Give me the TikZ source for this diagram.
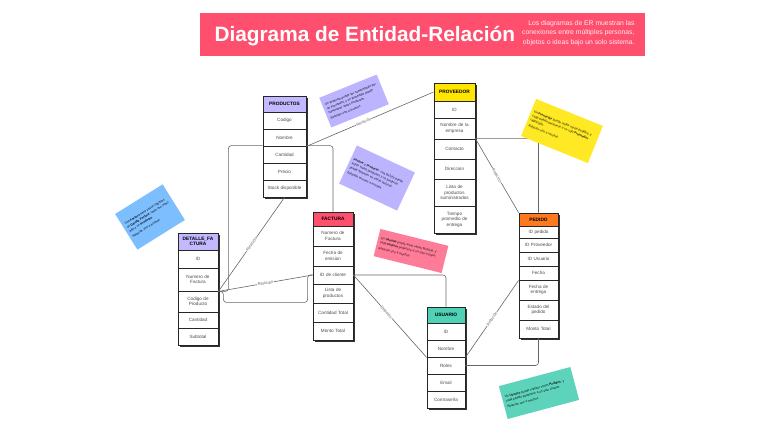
\documentclass[tikz,border=0pt]{standalone}
\usepackage{fontspec}
\setmainfont{Liberation Sans}
\definecolor{rosa}{HTML}{FF4F6E}
\definecolor{lila}{HTML}{C2B9FF}
\definecolor{amarillo}{HTML}{FFE500}
\definecolor{naranja}{HTML}{FF7A1F}
\definecolor{turquesa}{HTML}{4FD1B5}
\definecolor{azulnota}{HTML}{7DBEFF}
\definecolor{rosanota}{HTML}{FF7C99}
\definecolor{lilanota}{HTML}{BDB4FF}
\definecolor{amarillonota}{HTML}{FFE924}
\definecolor{turquesanota}{HTML}{5DD3BC}

\begin{document}
\begin{tikzpicture}[x=1pt,y=-1pt,
    celda/.style={draw=black!85,line width=.8pt,fill=white,align=center,inner sep=1pt,
        text=black!70,font=\fontsize{4.6}{5.4}\selectfont},
    cabecera/.style={celda,text=black,font=\fontsize{4.8}{5.6}\selectfont\bfseries},
    sombra/.style={fill=black!80},
    conn/.style={draw=black!60,line width=.6pt,rounded corners=3pt},
    rel/.style={font=\fontsize{4}{4.4}\selectfont,text=black!60,fill=white,inner sep=.6pt,sloped},
    nota/.style={align=left,inner sep=3pt,font=\fontsize{3}{4.4}\selectfont}]
\useasboundingbox (0,0) rectangle (768,431);
\fill[white] (0,0) rectangle (768,431);

% titulo
\fill[rosa] (200,13) rectangle (645,56);
\node[anchor=base west,text=white,font=\fontsize{20.8}{24}\selectfont\bfseries] (titulo) at (211,41.7) {Diagrama de Entidad-Relación};
\node[anchor=east,align=right,text=white!88!rosa,font=\fontsize{6.8}{9.6}\selectfont] (subtitulo) at (638,33)
    {Los diagramas de ER muestran las\\conexiones entre múltiples personas,\\objetos o ideas bajo un solo sistema.};

% sombras de las tablas
\fill[sombra] (264.5,97.5) rectangle (307.5,198.5);
\fill[sombra] (435.5,84.5) rectangle (476.5,234.5);
\fill[sombra] (314.5,213.5) rectangle (354.5,341.5);
\fill[sombra] (179.5,234.5) rectangle (219.5,346.5);
\fill[sombra] (520.5,214.5) rectangle (559.5,339.5);
\fill[sombra] (428.5,308.5) rectangle (466.5,409.5);

% PRODUCTOS
\begin{scope}[celda/.append style={text width=41pt}]
\node[cabecera,fill=lila,minimum height=16pt] (prod0) at (284.5,104) {PRODUCTOS};
\foreach \n/\a/\b/\t in {prod1/112/129/Codigo,prod2/129/146/Nombre,prod3/146/163/Cantidad,
    prod4/163/180/Precio,prod5/180/197/Stock disponible}
{
    \node[celda,minimum height={(\b-\a)*1pt}] (\n) at (284.5,{(\a+\b)/2}) {\t};
}
\end{scope}

% PROVEEDOR
\begin{scope}[celda/.append style={text width=39pt}]
\node[cabecera,fill=amarillo,minimum height=18pt] (prov0) at (454.5,92) {PROVEEDOR};
\foreach \n/\a/\b/\t in {prov1/101/118/ID,prov2/118/139/Nombre de la\\empresa,prov3/139/159/Contacto,
    prov4/159/179/Direccion,prov5/179/206/Lista de\\productos\\suministrados,prov6/206/233/Tiempo\\promedio de\\entrega}
{
    \node[celda,minimum height={(\b-\a)*1pt}] (\n) at (454.5,{(\a+\b)/2}) {\t};
}
\end{scope}

% FACTURA
\begin{scope}[celda/.append style={text width=38pt}]
\node[cabecera,fill=rosa,minimum height=14pt] (fact0) at (333,219) {FACTURA};
\foreach \n/\a/\b/\t in {fact1/226/246/Numero de\\Factura,fact2/246/266/Fecha de\\emision,fact3/266/284/ID de cliente,
    fact4/284/303/Lista de\\productos,fact5/303/322/Cantidad Total,fact6/322/340/Monto Total}
{
    \node[celda,minimum height={(\b-\a)*1pt}] (\n) at (333,{(\a+\b)/2}) {\t};
}
\end{scope}

% DETALLE_FACTURA
\begin{scope}[celda/.append style={text width=38pt}]
\node[cabecera,fill=lila,minimum height=17pt] (det0) at (198,241.5) {DETALLE\_FA\\CTURA};
\foreach \n/\a/\b/\t in {det1/250/268/ID,det2/268/291/Numero de\\Factura,det3/291/312/Codigo de\\Producto,
    det4/312/328/Cantidad,det5/328/345/Subtotal}
{
    \node[celda,minimum height={(\b-\a)*1pt}] (\n) at (198,{(\a+\b)/2}) {\t};
}
\end{scope}

% PEDIDO
\begin{scope}[celda/.append style={text width=37pt}]
\node[cabecera,fill=naranja,minimum height=13pt] (ped0) at (538.5,219.5) {PEDIDO};
\foreach \n/\a/\b/\t in {ped1/226/238/ID pedido,ped2/238/252/ID Proveedor,ped3/252/266/ID Usuario,
    ped4/266/280/Fecha,ped5/280/300/Fecha de\\entrega,ped6/300/320/Estado del\\pedido,ped7/320/338/Monto Total}
{
    \node[celda,minimum height={(\b-\a)*1pt}] (\n) at (538.5,{(\a+\b)/2}) {\t};
}
\end{scope}

% USUARIO
\begin{scope}[celda/.append style={text width=36pt}]
\node[cabecera,fill=turquesa,minimum height=16pt] (usu0) at (446,315) {USUARIO};
\foreach \n/\a/\b/\t in {usu1/323/340/ID,usu2/340/357/Nombre,usu3/357/374/Roles,
    usu4/374/391/Email,usu5/391/408/Contraseña}
{
    \node[celda,minimum height={(\b-\a)*1pt}] (\n) at (446,{(\a+\b)/2}) {\t};
}
\end{scope}

% relaciones
\draw[conn] (prod2.south east) -- node[rel,pos=.45]{Relación} (prov0.west);
\draw[conn] (prod3.north east) -| (fact0.north);
\draw[conn] (prod5.south) -- node[rel]{Relación} (det2.south east);
\draw[conn] (prod3.north west) -| ([xshift=10]det2.south east) -- (det2.south east);
\draw[conn] (det2.south east) -- node[rel]{Relación} (fact3.west);
\draw[conn] (det2.south east) -- ++(5,0) -- ++(0,11) -| ([xshift=-5]fact3.west) -- (fact3.west);
\draw[conn] (fact3.east) -- node[rel,pos=.45]{Relación} (usu2.south west);
\draw[conn] (fact3.east) -| (usu0.north);
\draw[conn] (usu2.south east) -- node[rel]{Relación} (ped4.south west);
\draw[conn] (ped7.south) |- (usu3.east);
\draw[conn] (prov3.north east) -- node[rel]{Relación} (ped0.north west);
\draw[conn] (prov3.north east) -| (ped0.north);

% notas
\node[nota,fill=lilanota,text width=56pt,minimum height=32pt,rotate=22] (nota1) at (354,101)
    {Un producto puede ser suministrado por un Proveedor, y un proveedor puede suministrar varios Productos.\\[1.5pt]Relación uno a muchos};
\node[nota,fill=lilanota,text width=58pt,minimum height=42pt,rotate=-25] (nota2) at (377,178)
    {\textbf{Factura} y \textbf{Producto}: una factura puede incluir varios productos y un producto puede aparecer en varias facturas.\\[1.5pt]Relación muchos a muchos};
\node[nota,fill=amarillonota,text width=66pt,minimum height=40pt,rotate=-22] (nota3) at (562,131)
    {Un \textbf{Proveedor} puede recibir varios pedidos, y cada pedido pertenece a un solo \textbf{Proveedor} registrado.\\[1.5pt]Relación uno a muchos};
\node[nota,fill=rosanota,text width=64pt,minimum height=28pt,rotate=-14] (nota4) at (411,251)
    {Un \textbf{Usuario} puede tener varias facturas, y cada \textbf{Factura} pertenece a un solo usuario.\\[1.5pt]Relación uno a muchos};
\node[nota,fill=azulnota,text width=50pt,minimum height=42pt,rotate=32] (nota5) at (150,217)
    {Una \textbf{Factura} tiene varios registros en \textbf{Detalle Factura}, cada uno asociado a un \textbf{Producto}.\\[1.5pt]Relación uno a muchos};
\node[nota,fill=turquesanota,text width=68pt,minimum height=34pt,rotate=15] (nota6) at (539,393)
    {Un \textbf{Usuario} puede realizar varios \textbf{Pedidos}, y cada pedido pertenece a un solo usuario.\\[1.5pt]Relación uno a muchos};
\end{tikzpicture}
\end{document}
